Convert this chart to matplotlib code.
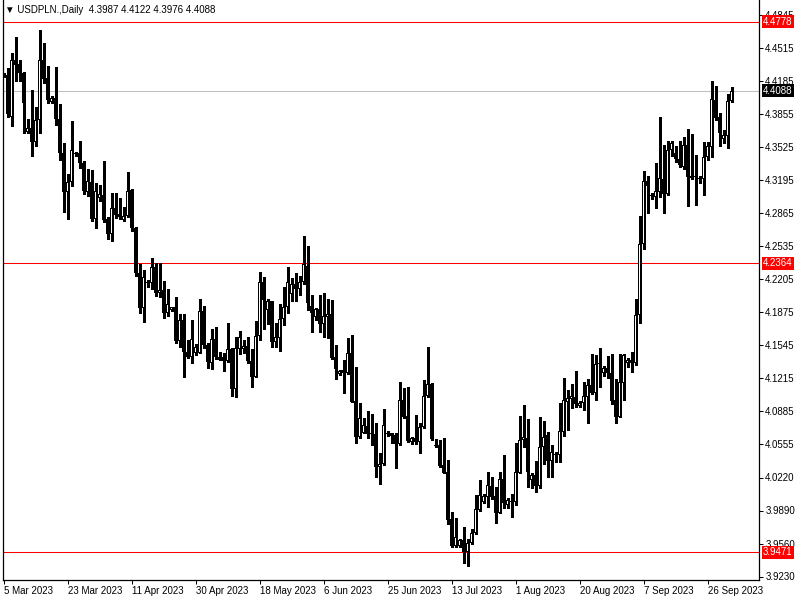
import numpy as np
import pandas as pd
import matplotlib
matplotlib.use("Agg")
import matplotlib.pyplot as plt

plt.rcParams['font.family'] = ['Liberation Sans', 'DejaVu Sans']

##### DATA (USDPLN daily)
opens = [
    4.4245, 4.4245, 4.3828, 4.4395, 4.4355, 4.4268, 4.3678, 4.3718, 4.3578, 4.3795,
    4.4395, 4.4215, 4.3978, 4.4015, 4.3805, 4.3468, 4.3078, 4.3172, 4.3452, 4.3468,
    4.3368, 4.3078, 4.3178, 4.2808, 4.3012, 4.3045, 4.2805, 4.2652, 4.2918, 4.2855,
    4.2795, 4.2835, 4.3095, 4.2715, 4.2262, 4.1918, 4.2165, 4.2168, 4.2328, 4.2068,
    4.2095, 4.1862, 4.1895, 4.1925, 4.1588, 4.1795, 4.1475, 4.1428, 4.1468, 4.1468,
    4.1885, 4.1545, 4.1362, 4.1602, 4.1398, 4.1425, 4.1388, 4.1505, 4.1102, 4.1502,
    4.1502, 4.1535, 4.1385, 4.1228, 4.1635, 4.2178, 4.1895, 4.1985, 4.1578, 4.1612,
    4.1802, 4.1922, 4.2052, 4.2155, 4.2102, 4.2172, 4.2335, 4.1935, 4.1822, 4.1905,
    4.1755, 4.1822, 4.1855, 4.1425, 4.1252, 4.1295, 4.1268, 4.1468, 4.0985, 4.0622,
    4.0668, 4.0735, 4.0668, 4.0655, 4.0322, 4.0355, 4.0658, 4.0662, 4.0645, 4.0552,
    4.0995, 4.0835, 4.0572, 4.0612, 4.0578, 4.0722, 4.1035, 4.1155, 4.0538, 4.0545,
    4.0345, 4.0275, 3.9805, 3.9538, 3.9538, 3.9595, 3.9472, 3.9562, 3.9662, 3.9895,
    3.9978, 4.0028, 4.0138, 4.0035, 3.9862, 4.0202, 3.9945, 3.9978, 3.9978, 4.0268,
    4.0595, 4.0612, 4.0195, 4.0245, 4.0138, 4.0522, 4.0645, 4.0388, 4.0445, 4.0445,
    4.0678, 4.0978, 4.1002, 4.1022, 4.0935, 4.0962, 4.1022, 4.1145, 4.1062, 4.1355,
    4.1262, 4.1312, 4.1268, 4.0995, 4.0828, 4.1168, 4.1362, 4.1395, 4.1362, 4.1845,
    4.2555, 4.3185, 4.3035, 4.3028, 4.3078, 4.3205, 4.3052, 4.3495, 4.3462, 4.3402,
    4.3328, 4.3545, 4.3235, 4.3228, 4.3218, 4.3202, 4.3422, 4.3528, 4.3995, 4.3822,
    4.3602, 4.3638, 4.3987,
]
highs = [
    4.4265, 4.4312, 4.4468, 4.4628, 4.4395, 4.4278, 4.3802, 4.4095, 4.3922, 4.4695,
    4.4562, 4.4335, 4.4035, 4.4328, 4.3955, 4.3562, 4.3255, 4.3788, 4.3478, 4.3585,
    4.3388, 4.3302, 4.3295, 4.3168, 4.3148, 4.3385, 4.2828, 4.3062, 4.3068, 4.3012,
    4.2928, 4.3275, 4.3105, 4.2728, 4.2355, 4.2295, 4.2195, 4.2415, 4.2362, 4.2362,
    4.2185, 4.2105, 4.1928, 4.2028, 4.1855, 4.1852, 4.1595, 4.1795, 4.1555, 4.2005,
    4.1935, 4.1568, 4.1705, 4.1722, 4.1478, 4.1468, 4.1762, 4.1512, 4.1628, 4.1685,
    4.1595, 4.1628, 4.1502, 4.1788, 4.2278, 4.2222, 4.2002, 4.1985, 4.1762, 4.1955,
    4.2122, 4.2322, 4.2212, 4.2268, 4.2238, 4.2635, 4.2535, 4.2042, 4.1912, 4.2045,
    4.2062, 4.2002, 4.1995, 4.1545, 4.1295, 4.1395, 4.1618, 4.1645, 4.1328, 4.0962,
    4.0812, 4.0885, 4.0855, 4.0765, 4.0462, 4.0902, 4.0685, 4.0662, 4.0662, 4.1178,
    4.1112, 4.1128, 4.0628, 4.0845, 4.0762, 4.1195, 4.1528, 4.1162, 4.0605, 4.0595,
    4.0612, 4.0395, 3.9878, 3.9812, 3.9602, 3.9722, 3.9602, 3.9702, 4.0045, 4.0195,
    4.0055, 4.0278, 4.0228, 4.0128, 4.0278, 4.0445, 4.0012, 4.0055, 4.0568, 4.0835,
    4.0945, 4.0802, 4.0268, 4.0388, 4.0822, 4.0785, 4.0675, 4.0545, 4.0478, 4.0968,
    4.1218, 4.1095, 4.1155, 4.1285, 4.0988, 4.1178, 4.1202, 4.1455, 4.1445, 4.1518,
    4.1335, 4.1435, 4.1455, 4.1202, 4.1455, 4.1455, 4.1412, 4.1478, 4.2002, 4.2838,
    4.3285, 4.3235, 4.3068, 4.3368, 4.3828, 4.3545, 4.3588, 4.3588, 4.3535, 4.3588,
    4.3628, 4.3702, 4.3655, 4.3445, 4.3235, 4.3578, 4.3578, 4.4185, 4.4135, 4.3868,
    4.3695, 4.4055, 4.4122,
]
lows = [
    4.4225, 4.3828, 4.3735, 4.4188, 4.4185, 4.3668, 4.3668, 4.3435, 4.3535, 4.3668,
    4.4162, 4.3968, 4.3968, 4.3748, 4.3395, 4.2878, 4.2802, 4.3138, 4.3438, 4.3312,
    4.3055, 4.3038, 4.2785, 4.2718, 4.2985, 4.2775, 4.2605, 4.2588, 4.2818, 4.2802,
    4.2782, 4.2822, 4.2685, 4.2238, 4.1868, 4.1778, 4.2128, 4.2102, 4.2038, 4.2028,
    4.1818, 4.1835, 4.1888, 4.1568, 4.1522, 4.1228, 4.1415, 4.1368, 4.1448, 4.1468,
    4.1518, 4.1312, 4.1302, 4.1402, 4.1395, 4.1288, 4.1375, 4.1038, 4.1022, 4.1455,
    4.1468, 4.1362, 4.1122, 4.1222, 4.1595, 4.1702, 4.1755, 4.1528, 4.1528, 4.1488,
    4.1745, 4.1868, 4.1985, 4.1985, 4.2045, 4.2155, 4.1895, 4.1678, 4.1795, 4.1678,
    4.1628, 4.1612, 4.1402, 4.1205, 4.1245, 4.1062, 4.1255, 4.0978, 4.0562, 4.0612,
    4.0662, 4.0612, 4.0545, 4.0228, 4.0155, 4.0345, 4.0635, 4.0562, 4.0318, 4.0545,
    4.0812, 4.0578, 4.0552, 4.0552, 4.0468, 4.0712, 4.1028, 4.0595, 4.0522, 4.0328,
    4.0262, 3.9755, 3.9522, 3.9522, 3.9522, 3.9362, 3.9338, 3.9555, 3.9655, 3.9888,
    3.9968, 3.9928, 4.0002, 3.9768, 3.9862, 3.9918, 3.9912, 3.9828, 3.9945, 4.0262,
    4.0522, 4.0128, 4.0112, 4.0072, 4.0112, 4.0355, 4.0222, 4.0222, 4.0378, 4.0378,
    4.0635, 4.0695, 4.0918, 4.0928, 4.0928, 4.0895, 4.0768, 4.1055, 4.0995, 4.1128,
    4.1235, 4.1212, 4.0955, 4.0768, 4.0822, 4.0995, 4.1322, 4.1278, 4.1345, 4.1762,
    4.2502, 4.2868, 4.3002, 4.2912, 4.3028, 4.2862, 4.3045, 4.3435, 4.3378, 4.3328,
    4.3302, 4.2935, 4.3202, 4.2945, 4.3168, 4.3045, 4.3395, 4.3422, 4.3795, 4.3535,
    4.3568, 4.3518, 4.3976,
]
closes = [
    4.4240, 4.3852, 4.4395, 4.4345, 4.4262, 4.3968, 4.3715, 4.3578, 4.3795, 4.4395,
    4.4208, 4.3995, 4.4015, 4.3802, 4.3462, 4.3078, 4.3172, 4.3495, 4.3465, 4.3362,
    4.3088, 4.3185, 4.2805, 4.3082, 4.3055, 4.2795, 4.2652, 4.2918, 4.2848, 4.2828,
    4.2835, 4.3085, 4.2718, 4.2268, 4.1918, 4.2222, 4.2175, 4.2322, 4.2068, 4.2095,
    4.1862, 4.1955, 4.1922, 4.1588, 4.1795, 4.1472, 4.1428, 4.1605, 4.1522, 4.1885,
    4.1545, 4.1378, 4.1602, 4.1428, 4.1422, 4.1388, 4.1505, 4.1102, 4.1512, 4.1628,
    4.1535, 4.1385, 4.1228, 4.1635, 4.2178, 4.1995, 4.1988, 4.1578, 4.1622, 4.1802,
    4.1922, 4.2172, 4.2155, 4.2102, 4.2172, 4.2355, 4.1962, 4.1862, 4.1905, 4.1755,
    4.1835, 4.1852, 4.1415, 4.1302, 4.1288, 4.1268, 4.1468, 4.0978, 4.0622, 4.0812,
    4.0745, 4.0655, 4.0655, 4.0322, 4.0355, 4.0745, 4.0658, 4.0638, 4.0552, 4.0995,
    4.0822, 4.0588, 4.0612, 4.0578, 4.0722, 4.1035, 4.1155, 4.0602, 4.0538, 4.0335,
    4.0268, 3.9795, 3.9538, 3.9622, 3.9595, 3.9472, 3.9562, 3.9662, 3.9902, 4.0045,
    4.0035, 4.0145, 4.0028, 3.9868, 4.0202, 3.9962, 3.9995, 3.9978, 4.0272, 4.0595,
    4.0622, 4.0272, 4.0245, 4.0138, 4.0522, 4.0628, 4.0388, 4.0478, 4.0445, 4.0685,
    4.0995, 4.1012, 4.1035, 4.0952, 4.0968, 4.1035, 4.1145, 4.1062, 4.1355, 4.1355,
    4.1312, 4.1268, 4.0985, 4.0828, 4.1178, 4.1445, 4.1395, 4.1368, 4.1845, 4.2555,
    4.3185, 4.3135, 4.3035, 4.3085, 4.3212, 4.3052, 4.3495, 4.3562, 4.3402, 4.3345,
    4.3545, 4.3228, 4.3212, 4.3228, 4.3202, 4.3422, 4.3535, 4.4002, 4.3818, 4.3662,
    4.3645, 4.3985, 4.4088,
]

level_lines = [4.4778, 4.2364, 3.9471]   # red horizontal lines
price_ticks = [4.4845, 4.4515, 4.4185, 4.3855, 4.3525, 4.3195, 4.2865, 4.2535, 4.2205,
               4.1875, 4.1545, 4.1215, 4.0885, 4.0555, 4.0220, 3.9890, 3.9560, 3.9230]
price_tick_labels = ['4.4845', '4.4515', '4.4185', '4.3855', '4.3525', '4.3195', '4.2865',
                     '4.2535', '4.2205', '4.1875', '4.1545', '4.1215', '4.0885', '4.0555',
                     '4.0220', '3.9890', '3.9560', '3.9230']
label_every = 16

# broker has Sunday bars -> Sun..Fri sessions
dates = pd.bdate_range('2023-03-05', periods=len(opens), freq='C',
                       weekmask='Sun Mon Tue Wed Thu Fri')

o = np.array(opens)
h = np.array(highs)
l = np.array(lows)
c = np.array(closes)
x = np.arange(len(o))

##### PLOT
W, H = 800, 600
fig = plt.figure(figsize=(W / 100, H / 100), dpi=100, facecolor='white')
ax = fig.add_axes([2.5 / W, (H - 579.5) / H, (759 - 2.5) / W, 579.5 / H])
ax.set_facecolor('white')

for lvl in level_lines:
    ax.axhline(lvl, color='#ff0000', lw=0.75, zorder=1)
ax.axhline(c[-1], color='#c0c0c0', lw=0.75, zorder=1)

# one price unit per pixel is 0.001 here
px = 0.001
ax.vlines(x, l, h, color='black', lw=0.75, zorder=2, antialiased=False)
up = c > o
body_lo = np.minimum(o, c)
body_h = np.maximum(np.abs(c - o), px)
# black outline / filled body, 3 px wide
ax.bar(x, body_h, bottom=body_lo, width=0.75, color='black',
       linewidth=0, zorder=3, antialiased=False)
# hollow (bullish) bodies: white inside, 1 px wide
inner = up & (np.abs(c - o) > 2.5 * px)
ax.bar(x[inner], np.abs(c - o)[inner] - 2 * px, bottom=body_lo[inner] + px,
       width=0.25, color='white', linewidth=0, zorder=4, antialiased=False)

ax.set_xlim(-0.25, (759 - 3.5) / 4)
ax.set_ylim(3.9200, 4.4995)

# axes styling a la MT4
ax.spines['top'].set_visible(False)
for s in ['left', 'right', 'bottom']:
    ax.spines[s].set_linewidth(0.9)
    ax.spines[s].set_color('black')

ax.yaxis.tick_right()
ax.set_yticks(price_ticks)
ax.set_yticklabels(price_tick_labels)
ax.tick_params(axis='y', direction='out', length=3, width=0.75, pad=1.5,
               labelsize=7, colors='black')

tick_idx = x[::label_every]
ax.set_xticks(tick_idx)
ax.set_xticklabels([f"{d.day} {d.strftime('%b %Y')}" for d in dates[tick_idx]])
ax.tick_params(axis='x', direction='out', length=3, width=0.75, pad=1.5,
               labelsize=7, colors='black')
for lab in ax.get_xticklabels():
    lab.set_ha('left')

# price tags on the right scale
tags = [(v, '#ff0000') for v in level_lines] + [(c[-1], 'black')]
for v, col in tags:
    ax.annotate(f'{v:.4f}', xy=(1, v), xycoords=('axes fraction', 'data'),
                xytext=(4, 0), textcoords='offset pixels', ha='left', va='center',
                fontsize=7, color='white', annotation_clip=False, zorder=5,
                bbox=dict(boxstyle='square,pad=0.15', fc=col, ec='none'))

title = (f'\u25bc USDPLN.,Daily  {o[-1]:.4f} {h[-1]:.4f} '
         f'{l[-1]:.4f} {c[-1]:.4f}')
fig.text(5 / W, 1 - 10 / H, title, ha='left', va='center', fontsize=7,
         color='black')

fig.savefig('out.png', dpi=100, facecolor='white')
